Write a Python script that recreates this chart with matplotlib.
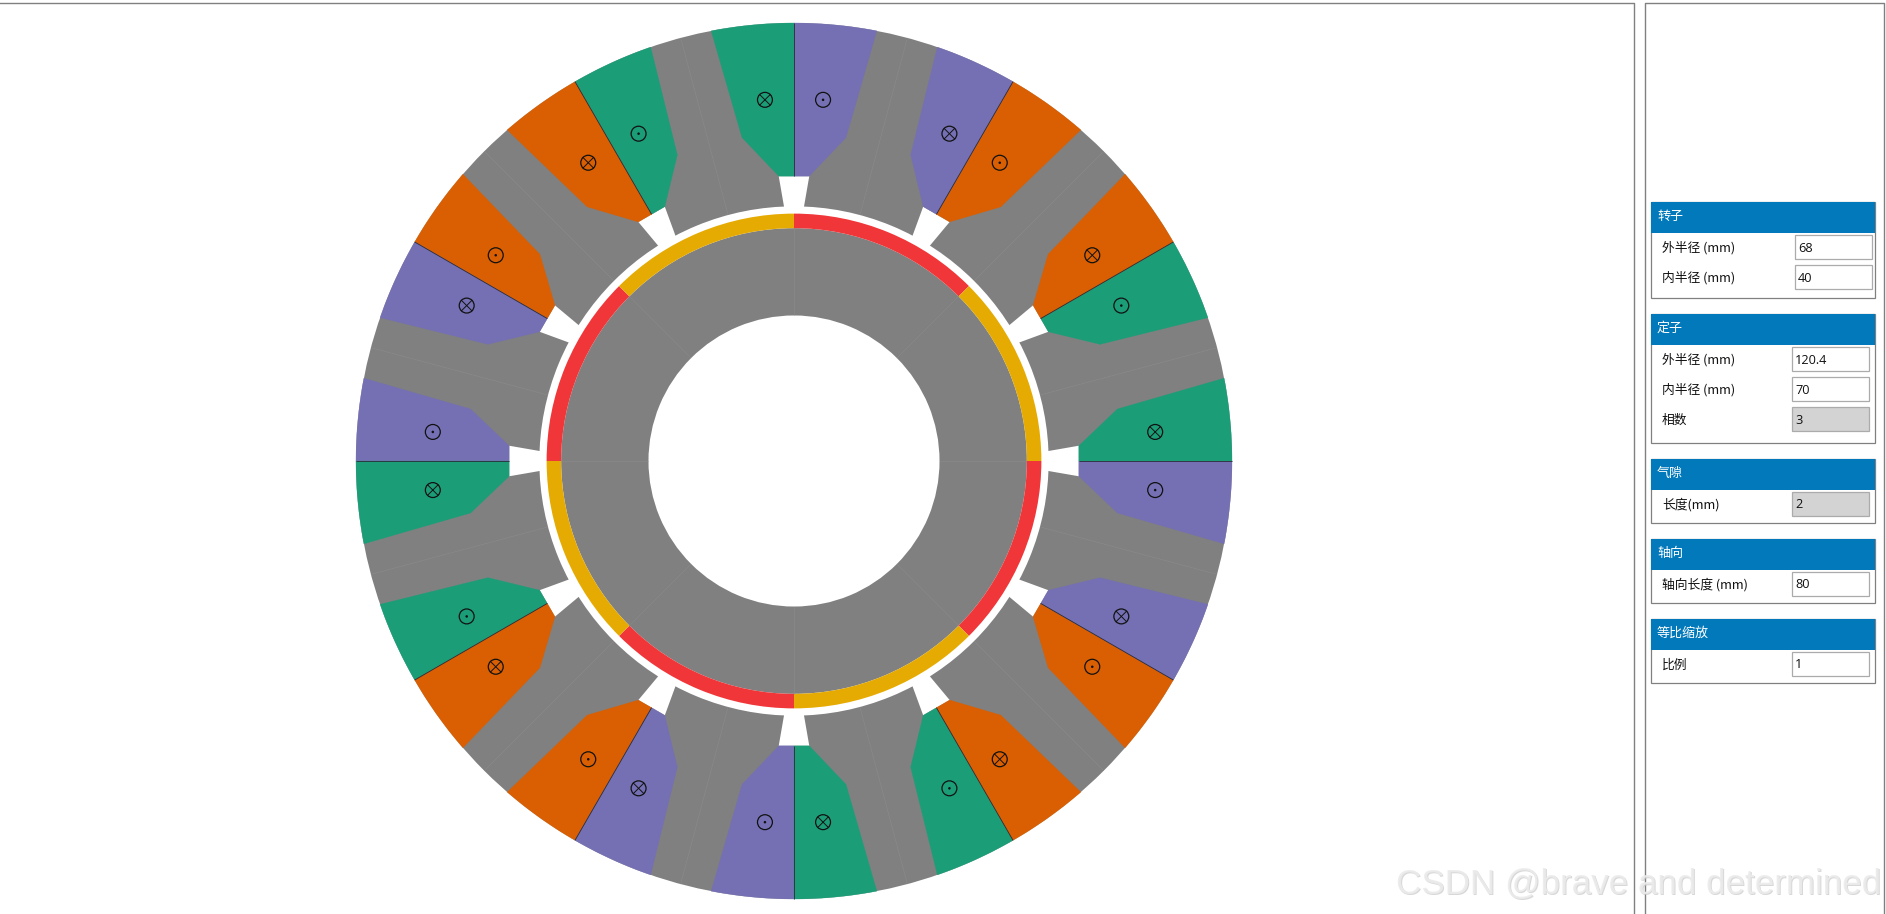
import numpy as np
import matplotlib
matplotlib.use("Agg")
import matplotlib.pyplot as plt
import matplotlib.patches as patches

plt.rcParams['font.family'] = ['Noto Sans CJK SC', 'DejaVu Sans']

# motor dimensions in mm
ROTOR_OUTER = 68
ROTOR_INNER = 40
YOKE_OUTER = 64
STATOR_OUTER = 120.4
STATOR_INNER = 70

# going clockwise from the slot at the top
slot_angles = [90, 60, 30, 0, -30, -60, -90, -120, -150, 180, 150, 120]
dot_phase = ['B', 'C', 'A', 'B', 'C', 'A', 'B', 'C', 'A', 'B', 'C', 'A']
cross_phase = ['A', 'B', 'C', 'A', 'B', 'C', 'A', 'B', 'C', 'A', 'B', 'C']
phase_colors = {'A': '#1b9e77', 'B': '#7570b3', 'C': '#d95f02'}

# magnets, clockwise from the top
magnet_start = [45, 0, -45, -90, -135, -180, 135, 90]
magnet_color = ['#f03638', '#e6ab02', '#f03638', '#e6ab02', '#f03638', '#e6ab02', '#f03638', '#e6ab02']

# side panels
panel_titles = ['转子', '定子', '气隙', '轴向', '等比缩放']
panel_labels = [['外半径 (mm)', '内半径 (mm)'], ['外半径 (mm)', '内半径 (mm)', '相数'],
                ['长度(mm)'], ['轴向长度 (mm)'], ['比例']]
panel_values = [['68', '40'], ['120.4', '70', '3'], ['2'], ['80'], ['1']]
panel_locked = [[False, False], [False, False, True], [True], [False], [False]]
panel_top = [202, 314, 459, 539, 619]
panel_bottom = [298, 443, 523, 603, 683]

W, H = 1886, 914
SCALE = 3.638  # px per mm
CX, CY = 794, 461
GRAY = '#808080'
SEAM = '#8b8b8b'
BLUE = '#0179bb'

fig = plt.figure(figsize=(W / 100, H / 100), dpi=100, facecolor='white')

half = 125
ax = fig.add_axes([(CX - half * SCALE) / W, 1 - (CY + half * SCALE) / H, 2 * half * SCALE / W, 2 * half * SCALE / H])
ax.set_xlim(-half, half)
ax.set_ylim(-half, half)
ax.axis('off')

ui = fig.add_axes([0, 0, 1, 1], zorder=3)
ui.set_xlim(0, W)
ui.set_ylim(H, 0)
ui.axis('off')
ui.patch.set_alpha(0)


def rotate(u, v, angle):
    # local slot coords (u sideways, v outward) with the slot pointing at angle
    a = np.radians(angle - 90)
    u = np.asarray(u, dtype=float)
    v = np.asarray(v, dtype=float)
    return u * np.cos(a) - v * np.sin(a), u * np.sin(a) + v * np.cos(a)


def radial_line(angle, r0, r1, **kw):
    a = np.radians(angle)
    ax.plot([r0 * np.cos(a), r1 * np.cos(a)], [r0 * np.sin(a), r1 * np.sin(a)], solid_capstyle='butt', **kw)


def coil(angle, side, color):
    # side=1 is clockwise of the slot centre
    arc = np.radians(np.linspace(10.9, 0, 30))
    u = np.r_[0, 4.2, 14.3, STATOR_OUTER * np.sin(arc)] * side
    v = np.r_[78.3, 78.3, 88.9, STATOR_OUTER * np.cos(arc)]
    x, y = rotate(u, v, angle)
    ax.add_patch(patches.Polygon(np.c_[x, y], closed=True, fc=color, ec=color, lw=0.2, zorder=3))


def symbol(angle, side, kind):
    a = np.radians(angle - side * 4.6)
    x, y = 99.6 * np.cos(a), 99.6 * np.sin(a)
    ax.add_patch(patches.Circle((x, y), 2.05, fc='none', ec='#111111', lw=0.9, zorder=5))
    if kind == 'dot':
        ax.add_patch(patches.Circle((x, y), 0.35, fc='#111111', ec='none', zorder=5))
    else:
        d = 2.05 * np.sqrt(0.5)
        ax.plot([x - d, x + d], [y - d, y + d], color='#111111', lw=0.7, zorder=5)
        ax.plot([x - d, x + d], [y + d, y - d], color='#111111', lw=0.7, zorder=5)


# stator iron
ax.add_patch(patches.Wedge((0, 0), STATOR_OUTER, 0, 360, width=STATOR_OUTER - STATOR_INNER, fc=GRAY, ec='none', zorder=1))
for ang in slot_angles:
    radial_line(ang - 15, STATOR_INNER, STATOR_OUTER, color=SEAM, lw=0.4, zorder=2)

# slots: white opening then the two coil sides
for ang, dp, cp in zip(slot_angles, dot_phase, cross_phase):
    x, y = rotate([-2.5, -4.2, 4.2, 2.5], [68.5, 78.3, 78.3, 68.5], ang)
    ax.add_patch(patches.Polygon(np.c_[x, y], closed=True, fc='white', ec='none', zorder=2))
    coil(ang, 1, phase_colors[dp])
    coil(ang, -1, phase_colors[cp])
    radial_line(ang, 78.3, STATOR_OUTER, color='#2a2a3a', lw=0.6, zorder=4)
    symbol(ang, 1, 'dot')
    symbol(ang, -1, 'cross')

# rotor
ax.add_patch(patches.Wedge((0, 0), YOKE_OUTER, 0, 360, width=YOKE_OUTER - ROTOR_INNER, fc=GRAY, ec='none', zorder=1))
for start, color in zip(magnet_start, magnet_color):
    ax.add_patch(patches.Wedge((0, 0), ROTOR_OUTER, start, start + 45, width=ROTOR_OUTER - YOKE_OUTER,
                               fc=color, ec='none', zorder=2))
    radial_line(start, ROTOR_INNER, YOKE_OUTER, color=SEAM, lw=0.4, zorder=2)

# window frames
ui.plot([0, 1634, 1634], [3, 3, H], color=GRAY, lw=1.0)
ui.plot([1645, 1645, 1884, 1884], [H, 3, 3, H], color=GRAY, lw=1.0)

# parameter panels
for p, title in enumerate(panel_titles):
    top, bottom = panel_top[p], panel_bottom[p]
    ui.add_patch(patches.Rectangle((1651, top), 224, bottom - top, fc='white', ec=GRAY, lw=0.9))
    ui.add_patch(patches.Rectangle((1651, top), 224, 30.5, fc=BLUE, ec='none'))
    ui.text(1657, top + 14.5, title, color='white', fontsize=9.4, va='center', ha='left')
    field_x = 1795 if p == 0 else 1792
    for i, label in enumerate(panel_labels[p]):
        fy = top + 33 + i * 30
        ui.add_patch(patches.Rectangle((field_x, fy), 77, 24, fc='#d3d3d3' if panel_locked[p][i] else 'white',
                                       ec='#ababab', lw=0.9))
        ui.text(1662, fy + 13, label, color='#111111', fontsize=9.2, va='center', ha='left')
        ui.text(field_x + 3, fy + 13, panel_values[p][i], color='#111111', fontsize=9.2, va='center', ha='left',
                family=['Open Sans', 'DejaVu Sans'])

# watermark
ui.text(1397, 895, 'CSDN @brave and determined', color='#c8c8c8', alpha=0.7, fontsize=25.2,
        family=['Liberation Sans'], va='baseline', ha='left')
ui.text(1396, 894, 'CSDN @brave and determined', color='#ececec', alpha=0.9, fontsize=25.2,
        family=['Liberation Sans'], va='baseline', ha='left')

fig.savefig('out.png', dpi=100, facecolor='white')
